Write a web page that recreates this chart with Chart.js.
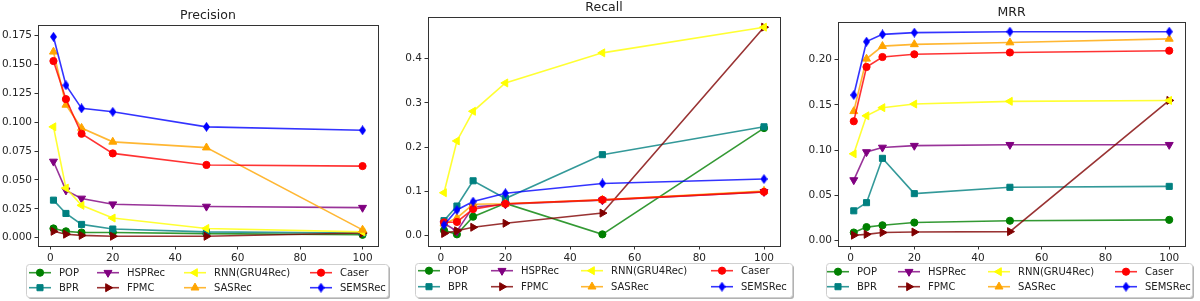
<!DOCTYPE html>
<html>
<head>
<meta charset="utf-8">
<script src="https://cdn.jsdelivr.net/npm/chart.js@4.4.1/dist/chart.umd.min.js"></script>
<style>
  html, body { margin: 0; padding: 0; background: #fff; }
  body { width: 1200px; height: 301px; position: relative; overflow: hidden; }
  canvas { position: absolute; top: 0; }
</style>
</head>
<body>
<canvas id="cPrecision" width="400" height="301" style="left:0px"></canvas>
<canvas id="cRecall" width="400" height="301" style="left:400px"></canvas>
<canvas id="cMrr" width="400" height="301" style="left:800px"></canvas>
<script>
// top-k cut-offs on the x axis
const ks = [1, 5, 10, 20, 50, 100];
const models = ['POP', 'BPR', 'HSPRec', 'FPMC', 'RNN(GRU4Rec)', 'SASRec', 'Caser', 'SEMSRec'];
const xTicks = [0, 20, 40, 60, 80, 100];

// rows follow the models list
const precisionValues = [
  [0.008, 0.0055, 0.0045, 0.0045, 0.0035, 0.0025],
  [0.0325, 0.021, 0.0115, 0.0075, 0.005, 0.004],
  [0.066, 0.041, 0.034, 0.029, 0.027, 0.026],
  [0.0055, 0.003, 0.002, 0.0012, 0.0012, 0.004],
  [0.096, 0.043, 0.028, 0.017, 0.008, 0.005],
  [0.161, 0.115, 0.095, 0.083, 0.078, 0.0068],
  [0.153, 0.120, 0.090, 0.073, 0.063, 0.062],
  [0.174, 0.132, 0.112, 0.109, 0.096, 0.093]
];
const recallValues = [
  [0.012, 0.003, 0.043, 0.073, 0.003, 0.243],
  [0.034, 0.067, 0.124, 0.084, 0.183, 0.246],
  [0.028, 0.010, 0.065, 0.071, 0.080, 0.099],
  [0.005, 0.011, 0.019, 0.028, 0.051, 0.471],
  [0.097, 0.214, 0.281, 0.345, 0.413, 0.471],
  [0.027, 0.040, 0.071, 0.072, 0.081, 0.101],
  [0.030, 0.031, 0.060, 0.072, 0.081, 0.099],
  [0.024, 0.058, 0.077, 0.096, 0.118, 0.128]
];
const mrrValues = [
  [0.009, 0.015, 0.017, 0.020, 0.022, 0.023],
  [0.033, 0.042, 0.091, 0.052, 0.059, 0.060],
  [0.067, 0.098, 0.103, 0.105, 0.106, 0.106],
  [0.006, 0.007, 0.009, 0.0095, 0.010, 0.155],
  [0.096, 0.138, 0.147, 0.151, 0.154, 0.155],
  [0.143, 0.201, 0.215, 0.217, 0.219, 0.223],
  [0.132, 0.192, 0.203, 0.206, 0.208, 0.210],
  [0.161, 0.220, 0.228, 0.230, 0.231, 0.231]
];

const precisionTicks = [0, 0.025, 0.05, 0.075, 0.1, 0.125, 0.15, 0.175];
const recallTicks = [0, 0.1, 0.2, 0.3, 0.4];
const mrrTicks = [0, 0.05, 0.1, 0.15, 0.2];

// styles
const colores = ['0,128,0', '0,128,128', '128,0,128', '128,0,0', '255,255,0', '255,165,0', '255,0,0', '0,0,255'];
const FONT = 'DejaVu Sans';

// thin diamond like matplotlib 'd'
function thinDiamond(color) {
  const c = document.createElement('canvas');
  c.width = 7; c.height = 10;
  const g = c.getContext('2d');
  g.fillStyle = color;
  g.beginPath();
  g.moveTo(3.5, 0); g.lineTo(7, 5); g.lineTo(3.5, 10); g.lineTo(0, 5);
  g.closePath();
  g.fill();
  return c;
}

const markers = [
  { style: 'circle', rot: 0, r: 3.6 },
  { style: 'rect', rot: 0, r: 4.3 },
  { style: 'triangle', rot: 180, r: 4.6 },
  { style: 'triangle', rot: 90, r: 4.6 },
  { style: 'triangle', rot: -90, r: 4.6 },
  { style: 'triangle', rot: 0, r: 4.6 },
  { style: 'circle', rot: 0, r: 3.6 },
  { style: thinDiamond('rgb(0,0,255)'), rot: 0, r: 5 }
];

function drawMarker(ctx, m, x, y, color) {
  ctx.fillStyle = 'rgb(' + color + ')';
  ctx.strokeStyle = 'rgb(' + color + ')';
  ctx.lineWidth = 1;
  if (Chart.helpers && Chart.helpers.drawPoint) {
    Chart.helpers.drawPoint(ctx, { pointStyle: m.style, rotation: m.rot, radius: m.r, borderWidth: 1 }, x, y);
  } else {
    ctx.beginPath(); ctx.arc(x, y, m.r, 0, Math.PI * 2); ctx.fill();
  }
}

function roundRect(ctx, x, y, w, h, r) {
  ctx.beginPath();
  ctx.moveTo(x + r, y);
  ctx.arcTo(x + w, y, x + w, y + h, r);
  ctx.arcTo(x + w, y + h, x, y + h, r);
  ctx.arcTo(x, y + h, x, y, r);
  ctx.arcTo(x, y, x + w, y, r);
  ctx.closePath();
}

function makeChart(canvasId, title, values, yTicks, digits, yMin, yMax, box) {
  const canvas = document.getElementById(canvasId);
  const W = canvas.width, H = canvas.height;
  const xAxisH = 20;

  const datasets = values.map((serie, i) => ({
    label: models[i],
    data: serie.map((v, j) => ({ x: ks[j], y: v })),
    borderColor: 'rgba(' + colores[i] + ',0.8)',
    borderWidth: 1.6,
    pointBackgroundColor: 'rgb(' + colores[i] + ')',
    pointBorderColor: 'rgb(' + colores[i] + ')',
    pointBorderWidth: 1,
    pointStyle: markers[i].style,
    pointRotation: markers[i].rot,
    pointRadius: markers[i].r,
    tension: 0,
    fill: false,
    order: models.length - i
  }));

  const decor = {
    id: 'decor-' + canvasId,
    afterDraw(chart) {
      const ctx = chart.ctx;
      const a = chart.chartArea;
      ctx.save();
      // frame
      ctx.strokeStyle = '#333';
      ctx.lineWidth = 1;
      ctx.strokeRect(Math.round(a.left) + 0.5, Math.round(a.top) + 0.5,
        Math.round(a.right - a.left), Math.round(a.bottom - a.top));
      // title
      ctx.fillStyle = '#222';
      ctx.font = '12.5px "' + FONT + '"';
      ctx.textAlign = 'center';
      ctx.textBaseline = 'middle';
      ctx.fillText(title, (a.left + a.right) / 2, a.top - 9.7);

      // legend
      const lg = box.legend;
      ctx.fillStyle = 'rgba(0,0,0,0.3)';
      roundRect(ctx, lg.x + 2, lg.y + 2, lg.w, lg.h, 3);
      ctx.fill();
      ctx.fillStyle = '#fff';
      roundRect(ctx, lg.x + 0.5, lg.y + 0.5, lg.w, lg.h, 3);
      ctx.fill();
      ctx.strokeStyle = '#cfcfcf';
      ctx.stroke();

      models.forEach((name, i) => {
        const hx = lg.cols[Math.floor(i / 2)];
        const hy = lg.rows[i % 2];
        ctx.strokeStyle = 'rgba(' + colores[i] + ',0.8)';
        ctx.lineWidth = 1.6;
        ctx.beginPath();
        ctx.moveTo(hx, hy); ctx.lineTo(hx + 22, hy);
        ctx.stroke();
        drawMarker(ctx, markers[i], hx + 11, hy, colores[i]);
        ctx.fillStyle = '#222';
        ctx.font = '10px "' + FONT + '"';
        ctx.textAlign = 'left';
        ctx.textBaseline = 'middle';
        ctx.fillText(name, hx + 30, hy + 0.5);
      });
      ctx.restore();
    }
  };

  const tickFont = { family: FONT, size: 10.5 };
  const gridOpts = { display: true, drawOnChartArea: false, drawTicks: true, tickLength: 3.5, color: '#333', lineWidth: 1 };

  return new Chart(canvas.getContext('2d'), {
    type: 'line',
    data: { datasets: datasets },
    options: {
      responsive: false,
      animation: false,
      devicePixelRatio: 1,
      layout: {
        padding: { left: 0, top: box.top, right: W - box.right, bottom: H - box.bottom - xAxisH }
      },
      plugins: { legend: { display: false }, tooltip: { enabled: false }, title: { display: false } },
      scales: {
        x: {
          type: 'linear',
          min: -3.95,
          max: 104.95,
          border: { display: false },
          grid: gridOpts,
          afterFit: (scale) => { scale.height = xAxisH; },
          afterBuildTicks: (scale) => { scale.ticks = xTicks.map(v => ({ value: v })); },
          ticks: { color: '#262626', font: tickFont, padding: 2, autoSkip: false, maxRotation: 0, callback: v => String(v) }
        },
        y: {
          min: yMin,
          max: yMax,
          border: { display: false },
          grid: gridOpts,
          afterFit: (scale) => { scale.width = box.left; },
          afterBuildTicks: (scale) => { scale.ticks = yTicks.map(v => ({ value: v })); },
          ticks: { color: '#262626', font: tickFont, padding: 2.5, autoSkip: false, callback: v => v.toFixed(digits) }
        }
      }
    },
    plugins: [decor]
  });
}

makeChart('cPrecision', 'Precision', precisionValues, precisionTicks, 3, -0.0072, 0.1842, {
  left: 38, right: 378, top: 25, bottom: 246,
  legend: { x: 26, y: 264, w: 362, h: 33, cols: [29, 97, 184, 310], rows: [272.7, 287.7] }
});
makeChart('cRecall', 'Recall', recallValues, recallTicks, 1, -0.0233, 0.494, {
  left: 28, right: 380, top: 17, bottom: 246,
  legend: { x: 15, y: 263, w: 377, h: 34, cols: [18, 91, 181, 311], rows: [270.7, 286.7] }
});
makeChart('cMrr', 'MRR', mrrValues, mrrTicks, 2, -0.0059, 0.2417, {
  left: 38, right: 385, top: 22, bottom: 246,
  legend: { x: 26, y: 263, w: 366, h: 34, cols: [27, 98, 188, 315], rows: [271.7, 286.7] }
});
</script>
</body>
</html>
